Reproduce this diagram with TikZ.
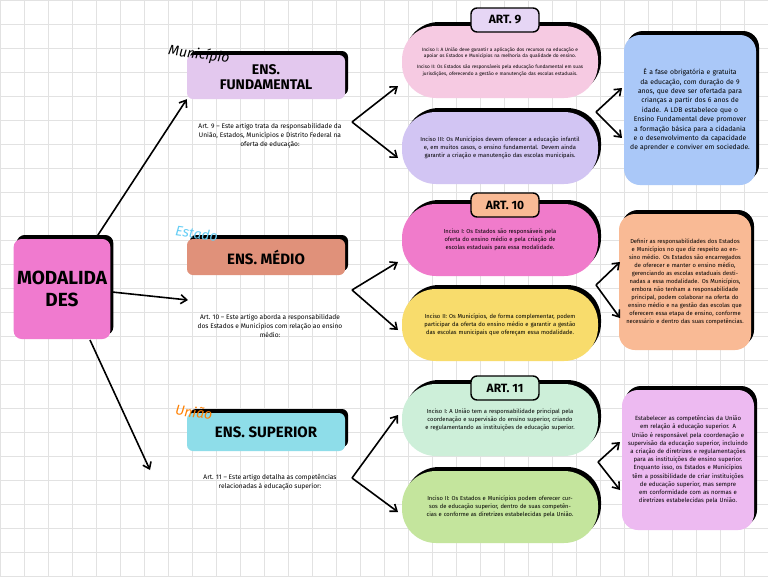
\documentclass[tikz,border=0pt]{standalone}
\usepackage{fontspec}
\setmainfont{Fira Sans}
\usetikzlibrary{arrows.meta}
\definecolor{gridc}{HTML}{E2E2E2}
\definecolor{cmod}{HTML}{F07ACF}
\definecolor{cfund}{HTML}{E3C8EE}
\definecolor{cmed}{HTML}{E0917A}
\definecolor{csup}{HTML}{8EDDE9}
\definecolor{cpink}{HTML}{F6CAE2}
\definecolor{cpurp}{HTML}{D2C5F3}
\definecolor{cblue}{HTML}{AAC8F8}
\definecolor{chot}{HTML}{F07BCB}
\definecolor{cyel}{HTML}{F8DC6C}
\definecolor{corg}{HTML}{F9BA95}
\definecolor{cmint}{HTML}{CDEFD9}
\definecolor{cgreen}{HTML}{C4E59D}
\definecolor{clil}{HTML}{EDBAF1}
\definecolor{cart}{HTML}{E6D6F5}
\tikzset{
 sh/.style={preaction={fill=black,transform canvas={shift={(3pt,4pt)}}}},
 hdr/.style={sh,fill=#1,rounded corners=6pt,minimum width=158pt,align=center,font=\bfseries\fontsize{15}{16}\selectfont},
 blob/.style={sh,fill=#1,rounded corners=34pt,minimum width=196pt,minimum height=72pt,text width=166pt,align=center,font=\fontsize{5.8}{8}\selectfont},
 side/.style={sh,fill=#1,rounded corners=16pt,minimum width=132pt,text width=120pt,align=center,font=\fontsize{6.4}{8.8}\selectfont},
 artl/.style={draw=black,line width=1.4pt,fill=#1,rounded corners=6pt,minimum width=68pt,minimum height=24pt,font=\bfseries\fontsize{12}{12}\selectfont},
 desc/.style={align=center,font=\fontsize{6.6}{9}\selectfont},
 scr/.style={font=\itshape\fontsize{14}{14}\selectfont,text=#1,rotate=-8},
 arr/.style={-{Straight Barb[length=6pt,width=9pt]},line width=1.6pt}
}
\begin{document}
\begin{tikzpicture}[x=1pt,y=-1pt]
\useasboundingbox (0,0) rectangle (768,576);
\fill[white] (0,0) rectangle (768,576);
\foreach \i in {0,...,32}{\draw[gridc,line width=0.8pt] (\i*24,0) -- (\i*24,576);}
\foreach \i in {0,...,24}{\draw[gridc,line width=0.8pt] (0,\i*24) -- (768,\i*24);}
% main
\node[sh,fill=cmod,rounded corners=8pt,minimum width=94pt,minimum height=100pt,align=center,font=\bfseries\fontsize{19}{22}\selectfont] (mod) at (62,289) {MODALIDA\\DES};
% headers
\node[hdr=cfund,minimum height=44pt,font=\bfseries\fontsize{14}{15}\selectfont] (fund) at (266,77) {ENS.\\FUNDAMENTAL};
\node[hdr=cmed,minimum height=36pt] (med) at (266,257) {ENS. MÉDIO};
\node[hdr=csup,minimum height=38pt] (sup) at (266,432) {ENS. SUPERIOR};
\node[scr=black,anchor=west] (mu) at (165,50) {Município};
\node[scr=cyan!60!white,anchor=west] (es) at (172,230) {Estado};
\node[scr=orange,anchor=west] (un) at (172,409) {União};
\node[desc] (d9) at (270,136) {Art. 9 -- Este artigo trata da responsabilidade da\\União, Estados, Municípios e Distrito Federal na\\oferta de educação:};
\node[desc] (d10) at (270,326) {Art. 10 -- Este artigo aborda a responsabilidade\\dos Estados e Municípios com relação ao ensino\\médio:};
\node[desc] (d11) at (270,482) {Art. 11 -- Este artigo detalha as competências\\relacionadas à educação superior:};
% main arrows
\coordinate (m1) at (96,238);
\coordinate (m2) at (112,292);
\coordinate (m3) at (90,340);
\draw[arr] (m1) -- (fund.south west);
\draw[arr] (m2) -- (188,300);
\draw[arr] (m3) -- (150,470);
% blobs
\node[blob=cpink,font=\fontsize{4.8}{6.6}\selectfont,text width=176pt] (b1) at (500,62) {Inciso I: A União deve garantir a aplicação dos recursos na educação e\\apoiar os Estados e Municípios na melhoria da qualidade do ensino.\\[4pt]Inciso II: Os Estados são responsáveis pela educação fundamental em suas\\jurisdições, oferecendo a gestão e manutenção das escolas estaduais.};
\node[blob=cpurp] (b2) at (500,148) {Inciso III: Os Municípios devem oferecer a educação infantil e, em muitos casos, o ensino fundamental. Devem ainda garantir a criação e manutenção das escolas municipais.};
\node[blob=chot] (b3) at (500,240) {Inciso I: Os Estados são responsáveis pela oferta do ensino médio e pela criação de escolas estaduais para essa modalidade.};
\node[blob=cyel] (b4) at (500,325) {Inciso II: Os Municípios, de forma complementar, podem participar da oferta do ensino médio e garantir a gestão das escolas municipais que ofereçam essa modalidade.};
\node[blob=cmint] (b5) at (500,420) {Inciso I: A União tem a responsabilidade principal pela coordenação e supervisão do ensino superior, criando e regulamentando as instituições de educação superior.};
\node[blob=cgreen] (b6) at (500,507) {Inciso II: Os Estados e Municípios podem oferecer cursos de educação superior, dentro de suas competências e conforme as diretrizes estabelecidas pela União.};
% art labels
\node[artl=cart] (a9) at (505,20) {ART. 9};
\node[artl=corg] (a10) at (505,205) {ART. 10};
\node[artl=cmint] (a11) at (505,388) {ART. 11};
% side boxes
\node[side=cblue,minimum height=150pt,font=\fontsize{6.8}{9.4}\selectfont] (s1) at (690,110) {É a fase obrigatória e gratuita da educação, com duração de 9 anos, que deve ser ofertada para crianças a partir dos 6 anos de idade. A LDB estabelece que o Ensino Fundamental deve promover a formação básica para a cidadania e o desenvolvimento da capacidade de aprender e conviver em sociedade.};
\node[side=corg,minimum height=136pt,font=\fontsize{5.8}{8}\selectfont] (s2) at (685,282) {Definir as responsabilidades dos Estados e Municípios no que diz respeito ao ensino médio. Os Estados são encarregados de oferecer e manter o ensino médio, gerenciando as escolas estaduais destinadas a essa modalidade. Os Municípios, embora não tenham a responsabilidade principal, podem colaborar na oferta do ensino médio e na gestão das escolas que oferecem essa etapa de ensino, conforme necessário e dentro das suas competências.};
\node[side=clil,minimum height=140pt,font=\fontsize{6}{8.2}\selectfont] (s3) at (688,460) {Estabelecer as competências da União em relação à educação superior. A União é responsável pela coordenação e supervisão da educação superior, incluindo a criação de diretrizes e regulamentações para as instituições de ensino superior. Enquanto isso, os Estados e Municípios têm a possibilidade de criar instituições de educação superior, mas sempre em conformidade com as normas e diretrizes estabelecidas pela União.};
% forks left
\coordinate (f1) at (352,122);
\coordinate (f2) at (352,290);
\coordinate (f3) at (352,478);
\draw[arr] (f1) -- (398,86);
\draw[arr] (f1) -- (398,158);
\draw[arr] (f2) -- (398,262);
\draw[arr] (f2) -- (398,330);
\draw[arr] (f3) -- (398,415);
\draw[arr] (f3) -- (398,512);
% forks right
\coordinate (r1) at (596,112);
\coordinate (r2) at (596,285);
\coordinate (r3) at (598,462);
\draw[arr] (r1) -- (622,88);
\draw[arr] (r1) -- (622,138);
\draw[arr] (r2) -- (620,262);
\draw[arr] (r2) -- (620,318);
\draw[arr] (r3) -- (620,442);
\draw[arr] (r3) -- (620,490);
\end{tikzpicture}
\end{document}
